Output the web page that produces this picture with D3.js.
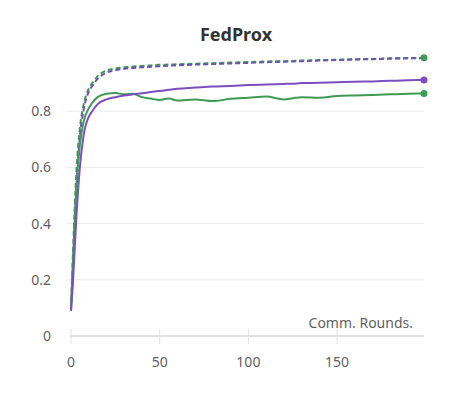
<!DOCTYPE html>
<html><head><meta charset="utf-8">
<script src="https://cdn.jsdelivr.net/npm/d3@7"></script>
<style>body{margin:0;background:#fff;font-family:"Source Sans Pro","Noto Sans",sans-serif;}</style>
</head><body>
<svg id="chart" width="474" height="402"></svg>
<script>
var rounds      = [0, 1, 3, 5, 7, 10, 12, 15, 20, 25, 30, 35, 40, 45, 50, 55, 60, 70, 80, 90, 100, 110, 120, 125, 130, 140, 150, 160, 170, 180, 190, 199];
var greenSolid  = [0.10, 0.25, 0.52, 0.68, 0.76, 0.81, 0.83, 0.85, 0.862, 0.865, 0.86, 0.862, 0.85, 0.845, 0.84, 0.845, 0.838, 0.842, 0.836, 0.844, 0.848, 0.852, 0.842, 0.846, 0.85, 0.848, 0.854, 0.856, 0.858, 0.86, 0.862, 0.863];
var purpleSolid = [0.09, 0.18, 0.42, 0.60, 0.71, 0.78, 0.80, 0.825, 0.842, 0.85, 0.856, 0.86, 0.864, 0.868, 0.872, 0.876, 0.88, 0.884, 0.888, 0.89, 0.893, 0.895, 0.897, 0.898, 0.90, 0.901, 0.903, 0.905, 0.906, 0.908, 0.91, 0.911];
var greenDash   = [0.10, 0.28, 0.58, 0.74, 0.82, 0.88, 0.90, 0.925, 0.945, 0.952, 0.956, 0.959, 0.961, 0.963, 0.965, 0.966, 0.967, 0.969, 0.971, 0.973, 0.975, 0.977, 0.978, 0.979, 0.98, 0.982, 0.983, 0.985, 0.986, 0.988, 0.989, 0.99];
var purpleDash  = [0.09, 0.22, 0.52, 0.71, 0.80, 0.87, 0.89, 0.915, 0.937, 0.946, 0.951, 0.954, 0.956, 0.958, 0.96, 0.962, 0.963, 0.966, 0.968, 0.97, 0.972, 0.974, 0.976, 0.977, 0.978, 0.98, 0.982, 0.984, 0.985, 0.987, 0.988, 0.989];
var xTicks = [0, 50, 100, 150];
var yTicks = [0, 0.2, 0.4, 0.6, 0.8];

var svg = d3.select('#chart');
var x = d3.scaleLinear().domain([0, 199]).range([71, 424]);
var y = d3.scaleLinear().domain([0, 1]).range([336, 55]);
var grey = '#5f5f5f';

svg.append('text').attr('x', 236).attr('y', 41).attr('text-anchor', 'middle')
  .attr('font-size', 18).attr('font-weight', 'bold').attr('fill', '#333').text('FedProx');

yTicks.forEach(function(t) {
  if (t > 0) svg.append('line').attr('x1', 66).attr('x2', 424).attr('y1', y(t)).attr('y2', y(t))
    .attr('stroke', '#ececec');
  svg.append('text').attr('x', 51).attr('y', y(t) + 5).attr('text-anchor', 'end')
    .attr('font-size', 14).attr('fill', grey).text(t === 0 ? '0' : t.toFixed(1));
});

svg.append('line').attr('x1', 71).attr('x2', 424).attr('y1', 336).attr('y2', 336)
  .attr('stroke', '#e2e2e2').attr('stroke-width', 2);
xTicks.forEach(function(t) {
  svg.append('line').attr('x1', x(t)).attr('x2', x(t)).attr('y1', 329).attr('y2', 344)
    .attr('stroke', '#e2e2e2').attr('stroke-width', 1);
  svg.append('text').attr('x', x(t)).attr('y', 367).attr('text-anchor', 'middle')
    .attr('font-size', 14).attr('fill', grey).text(t);
});
svg.append('text').attr('x', 413).attr('y', 328).attr('text-anchor', 'end')
  .attr('font-size', 14).attr('fill', grey).text('Comm. Rounds.');

var line = d3.line().x(function(d) { return x(d[0]); }).y(function(d) { return y(d[1]); })
  .curve(d3.curveMonotoneX);
var series = [
  {v: greenDash, c: '#3e9a55', dash: '5,3'},
  {v: purpleDash, c: '#6f52b5', dash: '5,3'},
  {v: greenSolid, c: '#3e9a55', dash: null},
  {v: purpleSolid, c: '#7b4fbf', dash: null}
];
series.forEach(function(s) {
  var pts = rounds.map(function(r, i) { return [r, s.v[i]]; });
  svg.append('path').datum(pts).attr('d', line).attr('fill', 'none')
    .attr('stroke', s.c).attr('stroke-width', 2).attr('stroke-dasharray', s.dash);
});
[{v: greenDash, c: '#3e9a55'}, {v: purpleSolid, c: '#7b4fbf'}, {v: greenSolid, c: '#3e9a55'}].forEach(function(s) {
  svg.append('circle').attr('cx', x(199)).attr('cy', y(s.v[s.v.length - 1])).attr('r', 3.5).attr('fill', s.c);
});
</script>
</body></html>
